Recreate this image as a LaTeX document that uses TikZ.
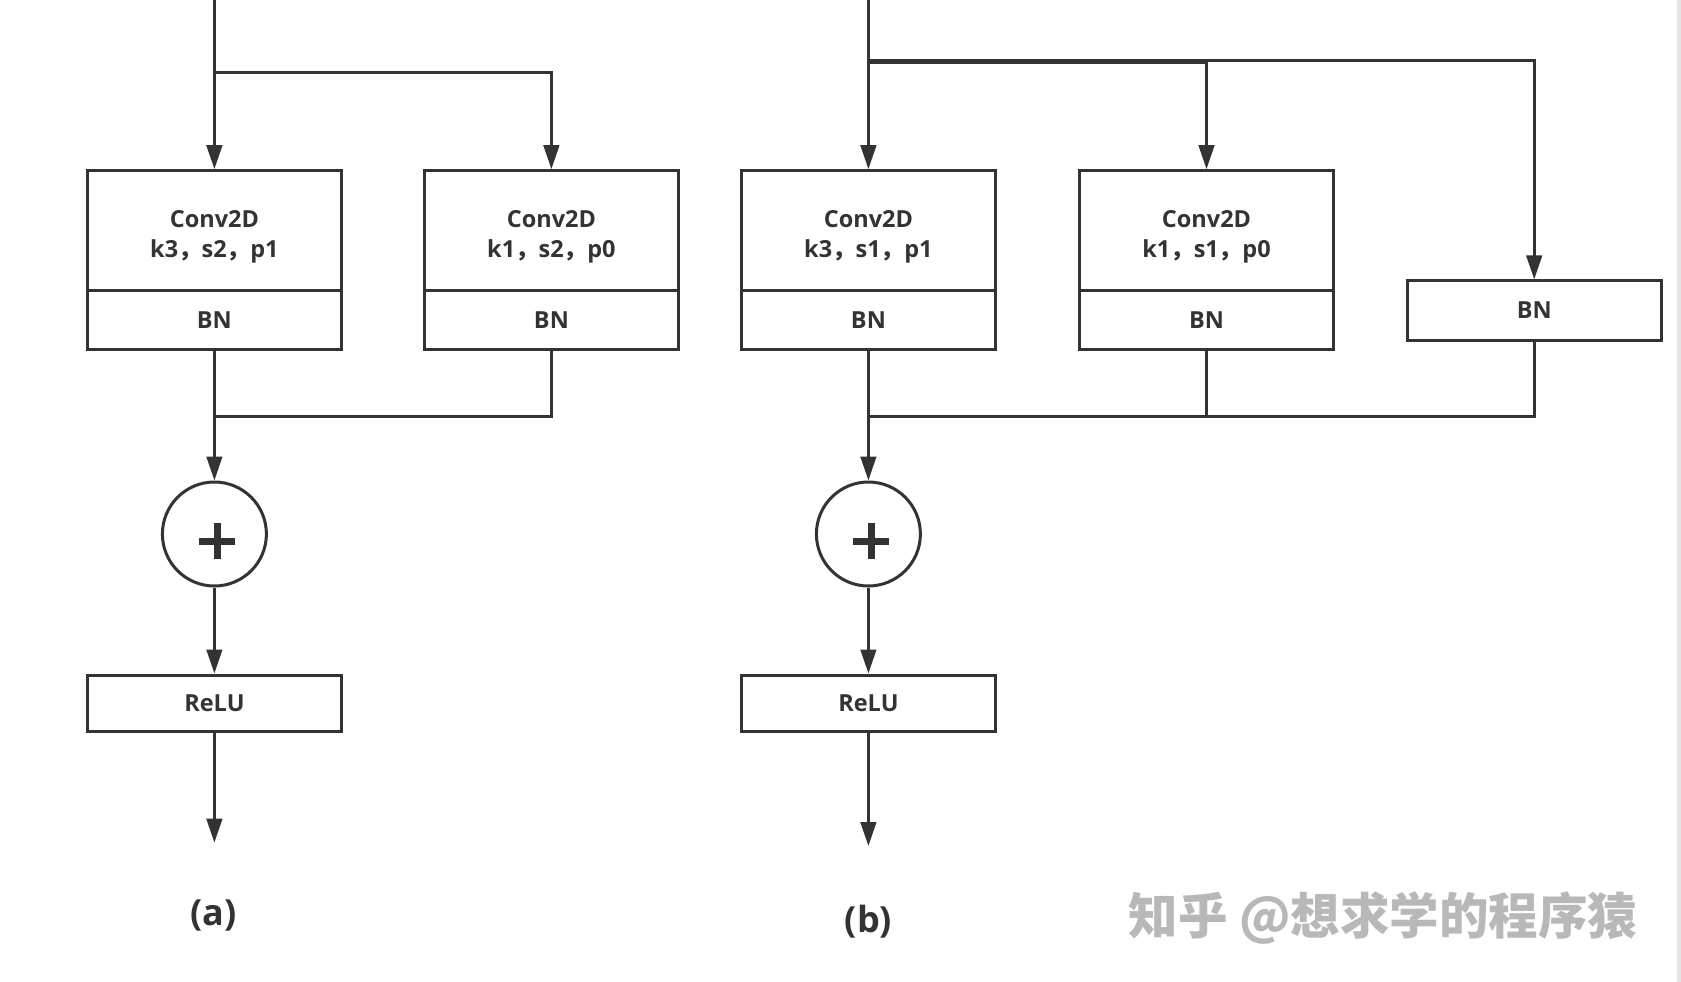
\documentclass[tikz,border=0pt]{standalone}
\usepackage{fontspec}
\setmainfont{Open Sans}
\newfontfamily\cjk{Noto Sans CJK SC}
\usetikzlibrary{arrows.meta}
\definecolor{ink}{HTML}{333333}
\definecolor{wm}{HTML}{B8B8B8}
\tikzset{
  ln/.style={draw=ink, line width=3pt},
  arr/.style={ln, -{Triangle[length=24pt,width=15.5pt]}},
  box/.style={ln, rectangle, minimum width=254pt, inner sep=0pt, text=ink,
    font=\bfseries\fontsize{23.5}{29.5}\selectfont},
  txt/.style={inner sep=0pt, align=center, text=ink,
    font=\bfseries\fontsize{23.5}{29.5}\selectfont},
  addc/.style={ln, circle, minimum size=104pt, inner sep=0pt},
  lbl/.style={inner sep=0pt, text=ink, font=\bfseries\fontsize{36}{40}\selectfont},
}
\newcommand{\cm}{{\cjk ，}}
\begin{document}
\begin{tikzpicture}[x=1pt,y=-1pt]
\useasboundingbox (0,0) rectangle (1681,982);
\fill[white] (0,0) rectangle (1681,982);
\fill[black!10] (1677,0) rectangle (1681,982);

% ---------- (a) ----------
\coordinate (topA) at (214.4,0);
\coordinate (brA) at (214.4,72.7);
\coordinate (mA) at (214.4,416);
\coordinate (outA) at (214.4,842.7);

\node[box, minimum height=120pt] (cA1) at (214.4,230.7) {};
\node[txt] (tA1) at (214.4,236.7) {Conv2D\\k3\cm s2\cm p1};
\node[box, minimum height=58.6pt] (bA1) at (214.4,320) {BN};

\node[box, minimum height=120pt] (cA2) at (551.4,230.7) {};
\node[txt] (tA2) at (551.4,236.7) {Conv2D\\k1\cm s2\cm p0};
\node[box, minimum height=58.6pt] (bA2) at (551.4,320) {BN};

\node[addc] (pA) at (214.4,534) {};
\draw[ink, line width=7pt] (199,541) -- (235,541) (217,523) -- (217,559);
\node[box, minimum height=56pt] (rA) at (214.4,703) {ReLU};

\draw[arr] (topA) -- (cA1.north);
\draw[arr] (brA) -| (cA2.north);
\draw[ln] (bA2.south) |- (mA);
\draw[arr] (bA1.south) -- (pA.north);
\draw[arr] (pA.south) -- (rA.north);
\draw[arr] (rA.south) -- (outA);
\node[lbl] (la) at (213.8,915) {(a)};

% ---------- (b) ----------
\coordinate (topB) at (868.4,0);
\coordinate (brB) at (868.4,60.7);
\coordinate (brB2) at (868.4,62.2);
\coordinate (mB) at (868.4,416);
\coordinate (outB) at (868.4,846);

\node[box, minimum height=120pt] (cB1) at (868.4,230.7) {};
\node[txt] (tB1) at (868.4,236.7) {Conv2D\\k3\cm s1\cm p1};
\node[box, minimum height=58.6pt] (bB1) at (868.4,320) {BN};

\node[box, minimum height=120pt] (cB2) at (1206.5,230.7) {};
\node[txt] (tB2) at (1206.5,236.7) {Conv2D\\k1\cm s1\cm p0};
\node[box, minimum height=58.6pt] (bB2) at (1206.5,320) {BN};

\node[box, minimum height=59.3pt] (bB3) at (1534.2,310.6) {BN};

\node[addc] (pB) at (868.4,534) {};
\draw[ink, line width=7pt] (853,541) -- (889,541) (871,523) -- (871,559);
\node[box, minimum height=56pt] (rB) at (868.4,703) {ReLU};

\draw[arr] (topB) -- (cB1.north);
\draw[arr] (brB) -| (bB3.north);
\draw[arr] (brB2) -| (cB2.north);
\draw[ln] (bB2.south) |- (mB);
\draw[ln] (bB3.south) |- (mB);
\draw[arr] (bB1.south) -- (pB.north);
\draw[arr] (pB.south) -- (rB.north);
\draw[arr] (rB.south) -- (outB);
\node[lbl] (lb) at (868.4,922) {(b)};

% watermark
\node[inner sep=0pt, text=wm, font=\cjk\bfseries\fontsize{49.5}{50}\selectfont] (wmk) at (1383,918) {知乎 @想求学的程序猿};
\end{tikzpicture}
\end{document}
